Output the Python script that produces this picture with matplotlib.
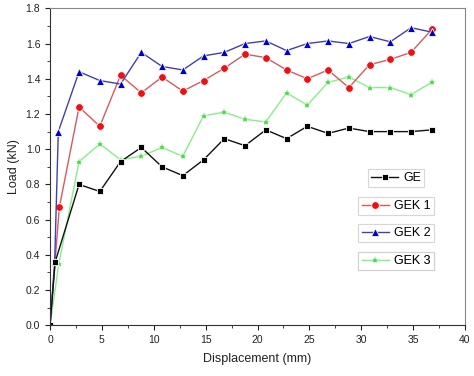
# Load vs displacement curves for GE / GEK samples
import numpy as np
import matplotlib.pyplot as plt

plt.rcParams['font.family'] = ['Liberation Sans', 'DejaVu Sans']

# Data
x_ge = [0, 0.5, 2.8, 4.8, 6.8, 8.8, 10.8, 12.8, 14.8, 16.8, 18.8, 20.8, 22.8, 24.8, 26.8, 28.8, 30.8, 32.8, 34.8, 36.8]
y_ge = [0, 0.36, 0.80, 0.76, 0.93, 1.01, 0.90, 0.85, 0.94, 1.06, 1.02, 1.11, 1.06, 1.13, 1.09, 1.12, 1.10, 1.10, 1.10, 1.11]

x_gek1 = [0, 0.9, 2.8, 4.8, 6.8, 8.8, 10.8, 12.8, 14.8, 16.8, 18.8, 20.8, 22.8, 24.8, 26.8, 28.8, 30.8, 32.8, 34.8, 36.8]
y_gek1 = [0, 0.67, 1.24, 1.13, 1.42, 1.32, 1.41, 1.33, 1.39, 1.46, 1.54, 1.52, 1.45, 1.40, 1.45, 1.35, 1.48, 1.51, 1.55, 1.68]

x_gek2 = [0, 0.45, 0.8, 2.8, 4.8, 6.8, 8.8, 10.8, 12.8, 14.8, 16.8, 18.8, 20.8, 22.8, 24.8, 26.8, 28.8, 30.8, 32.8, 34.8, 36.8]
y_gek2 = [0, 0.36, 1.10, 1.44, 1.39, 1.37, 1.55, 1.47, 1.45, 1.53, 1.55, 1.60, 1.615, 1.56, 1.60, 1.615, 1.60, 1.64, 1.61, 1.69, 1.665]

x_gek3 = [0, 0.85, 2.8, 4.8, 6.8, 8.8, 10.8, 12.8, 14.8, 16.8, 18.8, 20.8, 22.8, 24.8, 26.8, 28.8, 30.8, 32.8, 34.8, 36.8]
y_gek3 = [0, 0.35, 0.93, 1.03, 0.94, 0.96, 1.01, 0.96, 1.19, 1.21, 1.17, 1.155, 1.32, 1.25, 1.38, 1.41, 1.35, 1.35, 1.31, 1.38]

fig = plt.figure(figsize=(4.74, 3.76), dpi=100)
ax = fig.add_axes([0.1055, 0.1348, 0.8755, 0.843])

l4, = ax.plot(x_gek3, y_gek3, color='#88ee88', lw=1.0, marker='*', ms=6,
              mfc='#44dd44', mec='white', mew=0.3, label='GEK 3', zorder=2.0)
l2, = ax.plot(x_gek1, y_gek1, color='#d65a60', lw=1.0, marker='o', ms=5.5,
              mfc='#ee1111', mec='white', mew=0.6, label='GEK 1', zorder=2.1)
l3, = ax.plot(x_gek2, y_gek2, color='#4040b0', lw=1.0, marker='^', ms=5.5,
              mfc='#0000cc', mec='white', mew=0.6, label='GEK 2', zorder=2.2)
l1, = ax.plot(x_ge, y_ge, color='#111111', lw=1.0, marker='s', ms=4.5,
              mfc='black', mec='white', mew=0.6, label='GE', zorder=2.3)

ax.set_xlim(0, 40)
ax.set_ylim(0, 1.8)
ax.set_xticks(np.arange(0, 41, 5))
ax.set_xticks(np.arange(0, 41, 2.5), minor=True)
ax.set_yticks(np.arange(0, 1.81, 0.2))
ax.set_yticks(np.arange(0, 1.81, 0.1), minor=True)
ax.set_yticklabels(['%.1f' % v for v in np.arange(0, 1.81, 0.2)])
ax.tick_params(which='major', direction='out', length=3.5, width=0.8, labelsize=7.5, colors='#222222')
ax.tick_params(which='minor', direction='out', length=2, width=0.6, colors='#222222')

ax.set_xlabel('Displacement (mm)', fontsize=9, color='#222222', labelpad=6)
ax.set_ylabel('Load (kN)', fontsize=9, color='#222222', labelpad=4)

for s in ['left', 'bottom']:
    ax.spines[s].set_color('#333333')
for s in ['top', 'right']:
    ax.spines[s].set_color('#888888')

# separate boxed legend entries
ys = [0.4637, 0.3754, 0.2902, 0.2019]
for h, yy in zip([l1, l2, l3, l4], ys):
    leg = ax.legend(handles=[h], loc='center', bbox_to_anchor=(0.834, yy),
                    fontsize=9, frameon=True, fancybox=False, handlelength=2.2,
                    handletextpad=0.4, borderpad=0.25, borderaxespad=0)
    leg.get_frame().set_edgecolor('#cccccc')
    leg.get_frame().set_linewidth(0.8)
    ax.add_artist(leg)

plt.savefig('out.png', dpi=100)
